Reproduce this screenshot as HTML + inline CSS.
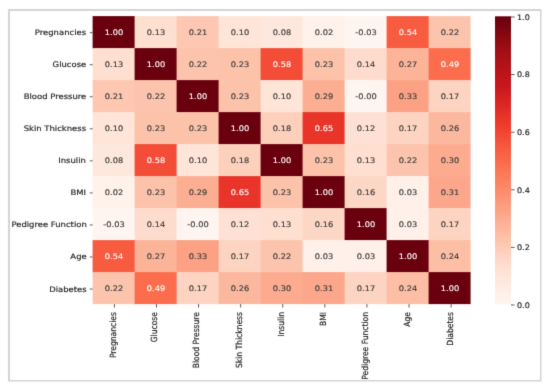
<!DOCTYPE html>
<html><head><meta charset="utf-8"><style>
html,body{margin:0;padding:0;background:#fff;}
body{width:550px;height:388px;position:relative;overflow:hidden;font-family:"DejaVu Sans","Liberation Sans",sans-serif;-webkit-text-stroke:0.18px currentColor;}
svg{position:absolute;left:0;top:0;}
#w{position:absolute;left:0;top:0;width:550px;height:388px;background:#fff;filter:url(#fb);}
.a{position:absolute;width:60px;height:20px;line-height:20px;text-align:center;font-size:7.6px;transform:scaleX(1.085);}
.yl{position:absolute;right:463.70px;height:20px;line-height:20px;font-size:7.6px;color:#262626;white-space:nowrap;transform-origin:100% 50%;transform:scaleX(1.112);}
.xl{position:absolute;top:311.90px;width:20px;line-height:20px;writing-mode:vertical-rl;transform:rotate(180deg) scaleX(1.112);font-size:7.6px;color:#262626;white-space:nowrap;}
.cl{position:absolute;height:20px;line-height:20px;font-size:7.6px;color:#262626;transform-origin:0 50%;transform:scaleX(1.056);}
</style></head><body>
<svg width="0" height="0" style="position:absolute"><filter id="fb" x="0" y="0" width="100%" height="100%" color-interpolation-filters="sRGB"><feConvolveMatrix order="3" kernelMatrix="0.01134 0.08382 0.01134 0.08382 0.61935 0.08382 0.01134 0.08382 0.01134" edgeMode="duplicate"/></filter></svg>
<div id="w">
<svg width="550" height="388" viewBox="0 0 550 388">
<g fill="#d4d4d4"><rect x="8" y="9" width="2" height="372.5"/><rect x="10" y="9" width="531.5" height="2"/><rect x="540" y="11" width="1.5" height="370.5"/><rect x="10" y="380" width="530" height="1.5"/></g>
<rect x="92.60" y="16.10" width="42.60" height="32.60" fill="#6a000e"/>
<rect x="134.60" y="16.10" width="42.60" height="32.60" fill="#fedfd0"/>
<rect x="176.60" y="16.10" width="42.60" height="32.60" fill="#fdc7b2"/>
<rect x="218.60" y="16.10" width="42.60" height="32.60" fill="#fee5d8"/>
<rect x="260.60" y="16.10" width="42.60" height="32.60" fill="#fee8dd"/>
<rect x="302.60" y="16.10" width="42.60" height="32.60" fill="#fff2eb"/>
<rect x="344.60" y="16.10" width="42.60" height="32.60" fill="#fff5f0"/>
<rect x="386.60" y="16.10" width="42.60" height="32.60" fill="#f75b40"/>
<rect x="428.60" y="16.10" width="42.00" height="32.60" fill="#fcc4ad"/>
<rect x="92.60" y="48.10" width="42.60" height="32.60" fill="#fedfd0"/>
<rect x="134.60" y="48.10" width="42.60" height="32.60" fill="#6a000e"/>
<rect x="176.60" y="48.10" width="42.60" height="32.60" fill="#fcc4ad"/>
<rect x="218.60" y="48.10" width="42.60" height="32.60" fill="#fcc2aa"/>
<rect x="260.60" y="48.10" width="42.60" height="32.60" fill="#f34c37"/>
<rect x="302.60" y="48.10" width="42.60" height="32.60" fill="#fcc2aa"/>
<rect x="344.60" y="48.10" width="42.60" height="32.60" fill="#fedccd"/>
<rect x="386.60" y="48.10" width="42.60" height="32.60" fill="#fcb499"/>
<rect x="428.60" y="48.10" width="42.00" height="32.60" fill="#fb6d4d"/>
<rect x="92.60" y="80.10" width="42.60" height="32.60" fill="#fdc7b2"/>
<rect x="134.60" y="80.10" width="42.60" height="32.60" fill="#fcc4ad"/>
<rect x="176.60" y="80.10" width="42.60" height="32.60" fill="#6a000e"/>
<rect x="218.60" y="80.10" width="42.60" height="32.60" fill="#fcc2aa"/>
<rect x="260.60" y="80.10" width="42.60" height="32.60" fill="#fee5d8"/>
<rect x="302.60" y="80.10" width="42.60" height="32.60" fill="#fcae92"/>
<rect x="344.60" y="80.10" width="42.60" height="32.60" fill="#fff5f0"/>
<rect x="386.60" y="80.10" width="42.60" height="32.60" fill="#fca183"/>
<rect x="428.60" y="80.10" width="42.00" height="32.60" fill="#fdd3c1"/>
<rect x="92.60" y="112.10" width="42.60" height="32.60" fill="#fee5d8"/>
<rect x="134.60" y="112.10" width="42.60" height="32.60" fill="#fcc2aa"/>
<rect x="176.60" y="112.10" width="42.60" height="32.60" fill="#fcc2aa"/>
<rect x="218.60" y="112.10" width="42.60" height="32.60" fill="#6a000e"/>
<rect x="260.60" y="112.10" width="42.60" height="32.60" fill="#fdd0bc"/>
<rect x="302.60" y="112.10" width="42.60" height="32.60" fill="#e83429"/>
<rect x="344.60" y="112.10" width="42.60" height="32.60" fill="#fee1d4"/>
<rect x="386.60" y="112.10" width="42.60" height="32.60" fill="#fdd3c1"/>
<rect x="428.60" y="112.10" width="42.00" height="32.60" fill="#fcb89e"/>
<rect x="92.60" y="144.10" width="42.60" height="32.60" fill="#fee8dd"/>
<rect x="134.60" y="144.10" width="42.60" height="32.60" fill="#f34c37"/>
<rect x="176.60" y="144.10" width="42.60" height="32.60" fill="#fee5d8"/>
<rect x="218.60" y="144.10" width="42.60" height="32.60" fill="#fdd0bc"/>
<rect x="260.60" y="144.10" width="42.60" height="32.60" fill="#6a000e"/>
<rect x="302.60" y="144.10" width="42.60" height="32.60" fill="#fcc2aa"/>
<rect x="344.60" y="144.10" width="42.60" height="32.60" fill="#fedfd0"/>
<rect x="386.60" y="144.10" width="42.60" height="32.60" fill="#fcc4ad"/>
<rect x="428.60" y="144.10" width="42.00" height="32.60" fill="#fcab8f"/>
<rect x="92.60" y="176.10" width="42.60" height="32.60" fill="#fff2eb"/>
<rect x="134.60" y="176.10" width="42.60" height="32.60" fill="#fcc2aa"/>
<rect x="176.60" y="176.10" width="42.60" height="32.60" fill="#fcae92"/>
<rect x="218.60" y="176.10" width="42.60" height="32.60" fill="#e83429"/>
<rect x="260.60" y="176.10" width="42.60" height="32.60" fill="#fcc2aa"/>
<rect x="302.60" y="176.10" width="42.60" height="32.60" fill="#6a000e"/>
<rect x="344.60" y="176.10" width="42.60" height="32.60" fill="#fdd7c6"/>
<rect x="386.60" y="176.10" width="42.60" height="32.60" fill="#fff0e9"/>
<rect x="428.60" y="176.10" width="42.00" height="32.60" fill="#fca78b"/>
<rect x="92.60" y="208.10" width="42.60" height="32.60" fill="#fff5f0"/>
<rect x="134.60" y="208.10" width="42.60" height="32.60" fill="#fedccd"/>
<rect x="176.60" y="208.10" width="42.60" height="32.60" fill="#fff5f0"/>
<rect x="218.60" y="208.10" width="42.60" height="32.60" fill="#fee1d4"/>
<rect x="260.60" y="208.10" width="42.60" height="32.60" fill="#fedfd0"/>
<rect x="302.60" y="208.10" width="42.60" height="32.60" fill="#fdd7c6"/>
<rect x="344.60" y="208.10" width="42.60" height="32.60" fill="#6a000e"/>
<rect x="386.60" y="208.10" width="42.60" height="32.60" fill="#fff0e9"/>
<rect x="428.60" y="208.10" width="42.00" height="32.60" fill="#fdd3c1"/>
<rect x="92.60" y="240.10" width="42.60" height="32.60" fill="#f75b40"/>
<rect x="134.60" y="240.10" width="42.60" height="32.60" fill="#fcb499"/>
<rect x="176.60" y="240.10" width="42.60" height="32.60" fill="#fca183"/>
<rect x="218.60" y="240.10" width="42.60" height="32.60" fill="#fdd3c1"/>
<rect x="260.60" y="240.10" width="42.60" height="32.60" fill="#fcc4ad"/>
<rect x="302.60" y="240.10" width="42.60" height="32.60" fill="#fff0e9"/>
<rect x="344.60" y="240.10" width="42.60" height="32.60" fill="#fff0e9"/>
<rect x="386.60" y="240.10" width="42.60" height="32.60" fill="#6a000e"/>
<rect x="428.60" y="240.10" width="42.00" height="32.60" fill="#fcbea5"/>
<rect x="92.60" y="272.10" width="42.60" height="32.00" fill="#fcc4ad"/>
<rect x="134.60" y="272.10" width="42.60" height="32.00" fill="#fb6d4d"/>
<rect x="176.60" y="272.10" width="42.60" height="32.00" fill="#fdd3c1"/>
<rect x="218.60" y="272.10" width="42.60" height="32.00" fill="#fcb89e"/>
<rect x="260.60" y="272.10" width="42.60" height="32.00" fill="#fcab8f"/>
<rect x="302.60" y="272.10" width="42.60" height="32.00" fill="#fca78b"/>
<rect x="344.60" y="272.10" width="42.60" height="32.00" fill="#fdd3c1"/>
<rect x="386.60" y="272.10" width="42.60" height="32.00" fill="#fcbea5"/>
<rect x="428.60" y="272.10" width="42.00" height="32.00" fill="#6a000e"/>
<defs><linearGradient id="cg" x1="0" y1="0" x2="0" y2="1"><stop offset="0.0000" stop-color="#6a000e"/><stop offset="0.0250" stop-color="#73030f"/><stop offset="0.0500" stop-color="#7e0610"/><stop offset="0.0750" stop-color="#8c0912"/><stop offset="0.1000" stop-color="#980c13"/><stop offset="0.1250" stop-color="#a30f15"/><stop offset="0.1500" stop-color="#ac1117"/><stop offset="0.1750" stop-color="#b31218"/><stop offset="0.2000" stop-color="#bc141a"/><stop offset="0.2250" stop-color="#c3161b"/><stop offset="0.2500" stop-color="#ca181d"/><stop offset="0.2750" stop-color="#d21f20"/><stop offset="0.3000" stop-color="#d92523"/><stop offset="0.3250" stop-color="#e12d26"/><stop offset="0.3500" stop-color="#e83429"/><stop offset="0.3750" stop-color="#ee3a2c"/><stop offset="0.4000" stop-color="#f14432"/><stop offset="0.4250" stop-color="#f44d38"/><stop offset="0.4500" stop-color="#f6583e"/><stop offset="0.4750" stop-color="#f96044"/><stop offset="0.5000" stop-color="#fb694a"/><stop offset="0.5250" stop-color="#fb7252"/><stop offset="0.5500" stop-color="#fb7a5a"/><stop offset="0.5750" stop-color="#fc8262"/><stop offset="0.6000" stop-color="#fc8a6a"/><stop offset="0.6250" stop-color="#fc9272"/><stop offset="0.6500" stop-color="#fc9b7c"/><stop offset="0.6750" stop-color="#fca285"/><stop offset="0.7000" stop-color="#fcab8f"/><stop offset="0.7250" stop-color="#fcb398"/><stop offset="0.7500" stop-color="#fcbba1"/><stop offset="0.7750" stop-color="#fcc3ab"/><stop offset="0.8000" stop-color="#fdcab5"/><stop offset="0.8250" stop-color="#fdd2bf"/><stop offset="0.8500" stop-color="#fed9c9"/><stop offset="0.8750" stop-color="#fee0d2"/><stop offset="0.9000" stop-color="#fee5d8"/><stop offset="0.9250" stop-color="#fee8de"/><stop offset="0.9500" stop-color="#ffede5"/><stop offset="0.9750" stop-color="#fff1ea"/><stop offset="1.0000" stop-color="#fff5f0"/></linearGradient></defs>
<rect x="495.0" y="16.3" width="16.0" height="288.0" fill="url(#cg)"/>
<path d="M89.80 32.65H92.60M89.80 64.70H92.60M89.80 96.75H92.60M89.80 128.80H92.60M89.80 160.85H92.60M89.80 192.90H92.60M89.80 224.95H92.60M89.80 257.00H92.60M89.80 289.05H92.60M114.40 304.10V307.50M156.49 304.10V307.50M198.58 304.10V307.50M240.67 304.10V307.50M282.76 304.10V307.50M324.85 304.10V307.50M366.94 304.10V307.50M409.03 304.10V307.50M451.12 304.10V307.50M511.00 17.00H514.60M511.00 74.60H514.60M511.00 132.20H514.60M511.00 189.80H514.60M511.00 247.40H514.60M511.00 305.00H514.60" stroke="#5a5a5a" stroke-width="1.0" fill="none"/>
</svg>
<div class="a" style="left:83.60px;top:23.20px;color:#ffffff;-webkit-text-stroke-width:0.1px">1.00</div>
<div class="a" style="left:125.60px;top:23.20px;color:#404040">0.13</div>
<div class="a" style="left:167.60px;top:23.20px;color:#404040">0.21</div>
<div class="a" style="left:209.60px;top:23.20px;color:#404040">0.10</div>
<div class="a" style="left:251.60px;top:23.20px;color:#404040">0.08</div>
<div class="a" style="left:293.60px;top:23.20px;color:#404040">0.02</div>
<div class="a" style="left:335.60px;top:23.20px;color:#404040">-0.03</div>
<div class="a" style="left:377.60px;top:23.20px;color:#ffffff;-webkit-text-stroke-width:0.1px">0.54</div>
<div class="a" style="left:419.60px;top:23.20px;color:#404040">0.22</div>
<div class="a" style="left:83.60px;top:55.20px;color:#404040">0.13</div>
<div class="a" style="left:125.60px;top:55.20px;color:#ffffff;-webkit-text-stroke-width:0.1px">1.00</div>
<div class="a" style="left:167.60px;top:55.20px;color:#404040">0.22</div>
<div class="a" style="left:209.60px;top:55.20px;color:#404040">0.23</div>
<div class="a" style="left:251.60px;top:55.20px;color:#ffffff;-webkit-text-stroke-width:0.1px">0.58</div>
<div class="a" style="left:293.60px;top:55.20px;color:#404040">0.23</div>
<div class="a" style="left:335.60px;top:55.20px;color:#404040">0.14</div>
<div class="a" style="left:377.60px;top:55.20px;color:#404040">0.27</div>
<div class="a" style="left:419.60px;top:55.20px;color:#ffffff;-webkit-text-stroke-width:0.1px">0.49</div>
<div class="a" style="left:83.60px;top:87.20px;color:#404040">0.21</div>
<div class="a" style="left:125.60px;top:87.20px;color:#404040">0.22</div>
<div class="a" style="left:167.60px;top:87.20px;color:#ffffff;-webkit-text-stroke-width:0.1px">1.00</div>
<div class="a" style="left:209.60px;top:87.20px;color:#404040">0.23</div>
<div class="a" style="left:251.60px;top:87.20px;color:#404040">0.10</div>
<div class="a" style="left:293.60px;top:87.20px;color:#404040">0.29</div>
<div class="a" style="left:335.60px;top:87.20px;color:#404040">-0.00</div>
<div class="a" style="left:377.60px;top:87.20px;color:#404040">0.33</div>
<div class="a" style="left:419.60px;top:87.20px;color:#404040">0.17</div>
<div class="a" style="left:83.60px;top:119.20px;color:#404040">0.10</div>
<div class="a" style="left:125.60px;top:119.20px;color:#404040">0.23</div>
<div class="a" style="left:167.60px;top:119.20px;color:#404040">0.23</div>
<div class="a" style="left:209.60px;top:119.20px;color:#ffffff;-webkit-text-stroke-width:0.1px">1.00</div>
<div class="a" style="left:251.60px;top:119.20px;color:#404040">0.18</div>
<div class="a" style="left:293.60px;top:119.20px;color:#ffffff;-webkit-text-stroke-width:0.1px">0.65</div>
<div class="a" style="left:335.60px;top:119.20px;color:#404040">0.12</div>
<div class="a" style="left:377.60px;top:119.20px;color:#404040">0.17</div>
<div class="a" style="left:419.60px;top:119.20px;color:#404040">0.26</div>
<div class="a" style="left:83.60px;top:151.20px;color:#404040">0.08</div>
<div class="a" style="left:125.60px;top:151.20px;color:#ffffff;-webkit-text-stroke-width:0.1px">0.58</div>
<div class="a" style="left:167.60px;top:151.20px;color:#404040">0.10</div>
<div class="a" style="left:209.60px;top:151.20px;color:#404040">0.18</div>
<div class="a" style="left:251.60px;top:151.20px;color:#ffffff;-webkit-text-stroke-width:0.1px">1.00</div>
<div class="a" style="left:293.60px;top:151.20px;color:#404040">0.23</div>
<div class="a" style="left:335.60px;top:151.20px;color:#404040">0.13</div>
<div class="a" style="left:377.60px;top:151.20px;color:#404040">0.22</div>
<div class="a" style="left:419.60px;top:151.20px;color:#404040">0.30</div>
<div class="a" style="left:83.60px;top:183.20px;color:#404040">0.02</div>
<div class="a" style="left:125.60px;top:183.20px;color:#404040">0.23</div>
<div class="a" style="left:167.60px;top:183.20px;color:#404040">0.29</div>
<div class="a" style="left:209.60px;top:183.20px;color:#ffffff;-webkit-text-stroke-width:0.1px">0.65</div>
<div class="a" style="left:251.60px;top:183.20px;color:#404040">0.23</div>
<div class="a" style="left:293.60px;top:183.20px;color:#ffffff;-webkit-text-stroke-width:0.1px">1.00</div>
<div class="a" style="left:335.60px;top:183.20px;color:#404040">0.16</div>
<div class="a" style="left:377.60px;top:183.20px;color:#404040">0.03</div>
<div class="a" style="left:419.60px;top:183.20px;color:#404040">0.31</div>
<div class="a" style="left:83.60px;top:215.20px;color:#404040">-0.03</div>
<div class="a" style="left:125.60px;top:215.20px;color:#404040">0.14</div>
<div class="a" style="left:167.60px;top:215.20px;color:#404040">-0.00</div>
<div class="a" style="left:209.60px;top:215.20px;color:#404040">0.12</div>
<div class="a" style="left:251.60px;top:215.20px;color:#404040">0.13</div>
<div class="a" style="left:293.60px;top:215.20px;color:#404040">0.16</div>
<div class="a" style="left:335.60px;top:215.20px;color:#ffffff;-webkit-text-stroke-width:0.1px">1.00</div>
<div class="a" style="left:377.60px;top:215.20px;color:#404040">0.03</div>
<div class="a" style="left:419.60px;top:215.20px;color:#404040">0.17</div>
<div class="a" style="left:83.60px;top:247.20px;color:#ffffff;-webkit-text-stroke-width:0.1px">0.54</div>
<div class="a" style="left:125.60px;top:247.20px;color:#404040">0.27</div>
<div class="a" style="left:167.60px;top:247.20px;color:#404040">0.33</div>
<div class="a" style="left:209.60px;top:247.20px;color:#404040">0.17</div>
<div class="a" style="left:251.60px;top:247.20px;color:#404040">0.22</div>
<div class="a" style="left:293.60px;top:247.20px;color:#404040">0.03</div>
<div class="a" style="left:335.60px;top:247.20px;color:#404040">0.03</div>
<div class="a" style="left:377.60px;top:247.20px;color:#ffffff;-webkit-text-stroke-width:0.1px">1.00</div>
<div class="a" style="left:419.60px;top:247.20px;color:#404040">0.24</div>
<div class="a" style="left:83.60px;top:279.20px;color:#404040">0.22</div>
<div class="a" style="left:125.60px;top:279.20px;color:#ffffff;-webkit-text-stroke-width:0.1px">0.49</div>
<div class="a" style="left:167.60px;top:279.20px;color:#404040">0.17</div>
<div class="a" style="left:209.60px;top:279.20px;color:#404040">0.26</div>
<div class="a" style="left:251.60px;top:279.20px;color:#404040">0.30</div>
<div class="a" style="left:293.60px;top:279.20px;color:#404040">0.31</div>
<div class="a" style="left:335.60px;top:279.20px;color:#404040">0.17</div>
<div class="a" style="left:377.60px;top:279.20px;color:#404040">0.24</div>
<div class="a" style="left:419.60px;top:279.20px;color:#ffffff;-webkit-text-stroke-width:0.1px">1.00</div>
<div class="yl" style="top:23.10px">Pregnancies</div>
<div class="yl" style="top:55.15px">Glucose</div>
<div class="yl" style="top:87.20px">Blood Pressure</div>
<div class="yl" style="top:119.25px">Skin Thickness</div>
<div class="yl" style="top:151.30px">Insulin</div>
<div class="yl" style="top:183.35px">BMI</div>
<div class="yl" style="top:215.40px">Pedigree Function</div>
<div class="yl" style="top:247.45px">Age</div>
<div class="yl" style="top:279.50px">Diabetes</div>
<div class="xl" style="left:104.00px">Pregnancies</div>
<div class="xl" style="left:145.09px">Glucose</div>
<div class="xl" style="left:187.18px">Blood Pressure</div>
<div class="xl" style="left:230.27px">Skin Thickness</div>
<div class="xl" style="left:272.36px">Insulin</div>
<div class="xl" style="left:314.45px">BMI</div>
<div class="xl" style="left:355.54px">Pedigree Function</div>
<div class="xl" style="left:397.63px">Age</div>
<div class="xl" style="left:441.22px">Diabetes</div>
<div class="cl" style="left:517.40px;top:7.80px">1.0</div>
<div class="cl" style="left:517.40px;top:65.40px">0.8</div>
<div class="cl" style="left:517.40px;top:123.00px">0.6</div>
<div class="cl" style="left:517.40px;top:180.60px">0.4</div>
<div class="cl" style="left:517.40px;top:238.20px">0.2</div>
<div class="cl" style="left:517.40px;top:295.80px">0.0</div>
</div>
</body></html>
